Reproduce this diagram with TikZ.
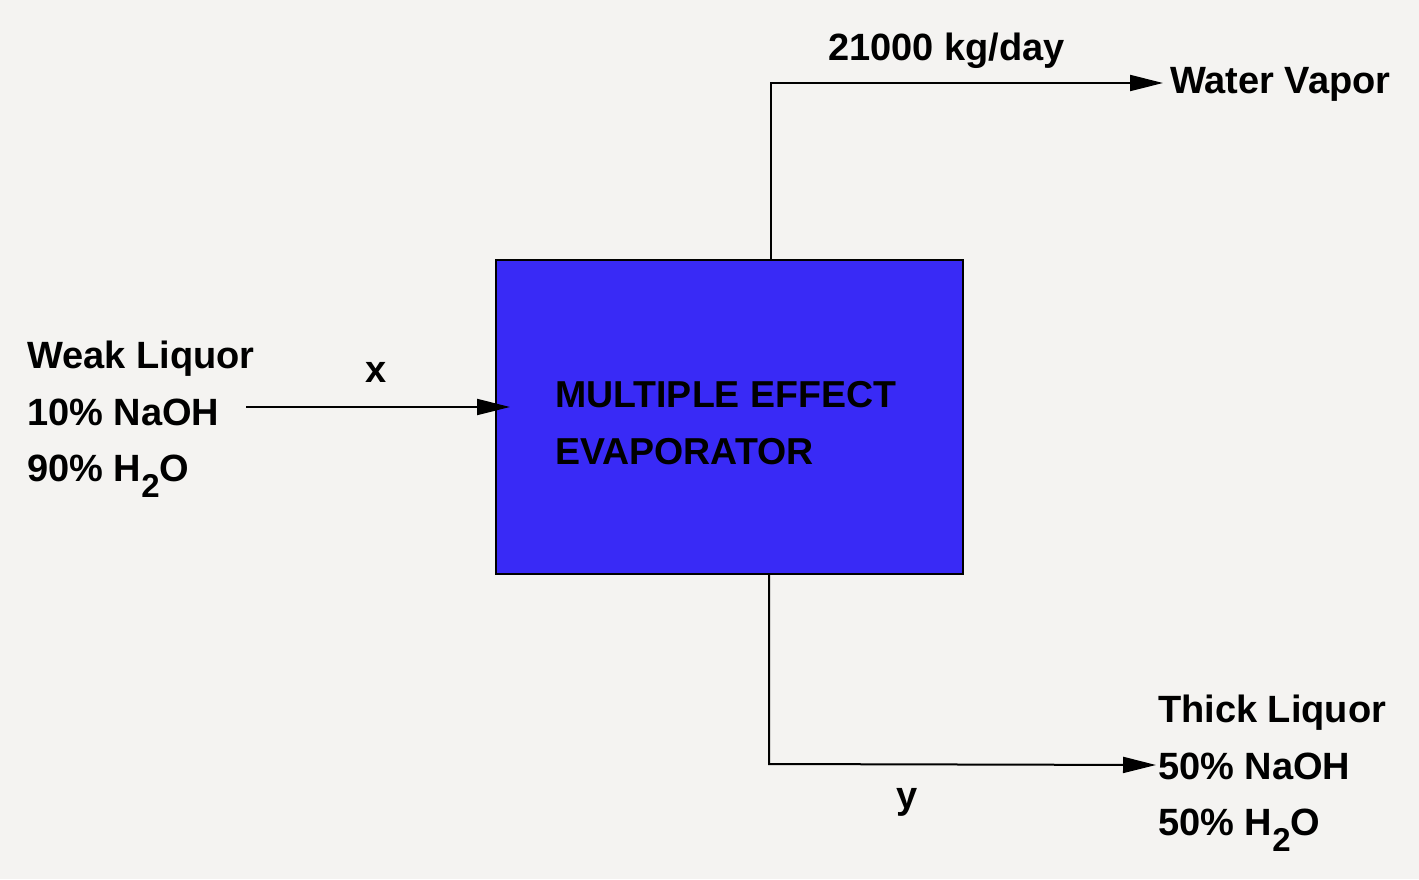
\documentclass[tikz,border=0pt]{standalone}
\usepackage{fontspec}
\setmainfont{Liberation Sans}
\usetikzlibrary{arrows.meta}
\definecolor{bgc}{RGB}{244,243,241}
\definecolor{boxblue}{RGB}{57,42,246}
\newcommand{\subtwo}{\raisebox{-16pt}{\fontsize{33}{33}\selectfont 2}}
\begin{document}
\begin{tikzpicture}[x=1pt,y=-1pt,
  lbl/.style={anchor=base west,inner sep=0pt,font=\fontsize{38}{46}\selectfont\bfseries},
  flow/.style={line width=2pt,draw=black,-{Triangle[length=33pt,width=16pt]}},
  unit/.style={draw=black,line width=2pt,fill=boxblue,minimum width=467pt,minimum height=314pt,inner sep=0pt},
  unittext/.style={anchor=north west,inner sep=0pt,align=left,
    font=\fontsize{37.5}{57}\selectfont\bfseries}]
\fill[bgc] (0,0) rectangle (1419,879);
\useasboundingbox (0,0) rectangle (1419,879);
% unit
\node[unit] (evap) at (729.5,417) {};
\node[unittext] (evaptext) at (555,381) {MULTIPLE EFFECT\\EVAPORATOR};
% labels
\node[lbl] (feed1) at (27,368) {Weak Liquor};
\node[lbl] (feed2) at (27,425) {10\% NaOH};
\node[lbl] (feed3) at (27,481) {90\% H\subtwo O};
\node[lbl] (xl) at (365,382) {x};
\node[lbl] (rate) at (828,60) {21000 kg/day};
\node[lbl] (vapor) at (1170,93) {Water Vapor};
\node[lbl] (prod1) at (1158,722) {Thick Liquor};
\node[lbl] (prod2) at (1158,779) {50\% NaOH};
\node[lbl] (prod3) at (1158,835) {50\% H\subtwo O};
\node[lbl] (yl) at (896,808) {y};
% connector points
\coordinate (fin) at (246,407);
\coordinate (fend) at (510,407);
\coordinate (vturn) at (771,83);
\coordinate (vend) at (1163,83);
\coordinate (pturn) at (769,764);
\coordinate (pend) at (1156,765);
% flows
\draw[flow] (fin) -- (fend);
\draw[flow] (evap.north -| vturn) -- (vturn) -- (vend);
\draw[flow] (evap.south -| pturn) -- (pturn) -- (pend);
\end{tikzpicture}
\end{document}
